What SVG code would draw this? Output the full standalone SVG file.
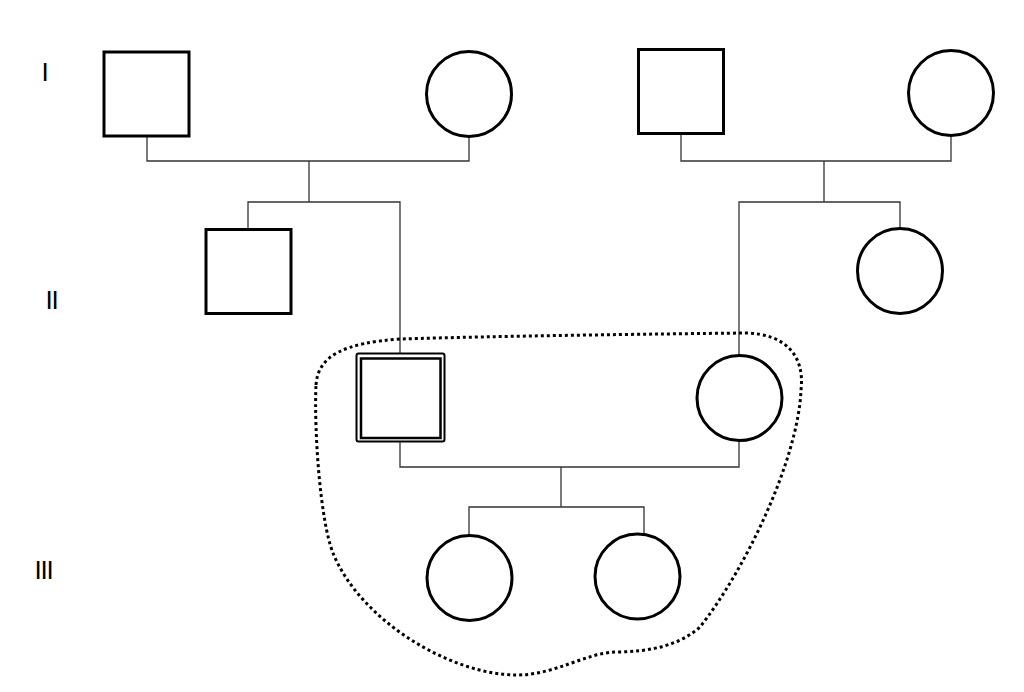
<svg xmlns="http://www.w3.org/2000/svg" width="1024" height="692" viewBox="0 0 1024 692">
<style>
.shape{fill:#fff;stroke:#000;stroke-width:3}
.conn{fill:none;stroke:#333;stroke-width:1.3}
.gen{font-family:"Liberation Sans",Arial,sans-serif;font-size:26px;fill:#000;letter-spacing:-1.2px}
.hh{fill:none;stroke:#000;stroke-width:3;stroke-dasharray:3 3}
</style>
<rect width="1024" height="692" fill="#fff"/>
<g id="labels">
<text class="gen" x="44.5" y="81" text-anchor="middle">I</text>
<text class="gen" x="51.5" y="309" text-anchor="middle">II</text>
<text class="gen" x="43.5" y="579" text-anchor="middle">III</text>
</g>
<g id="connectors">
<path class="conn" d="M147,136V161H469V137M309,161V202M248,229V202H400V355"/>
<path class="conn" d="M681,134V161H951V136M824,161V202M739,356V202H900V229"/>
<path class="conn" d="M400,442V467H739V441M561,467V507M469,535V507H644V534"/>
</g>
<g id="household">
<path class="hh" d="M316,385C318,355 345,343 400,339C500,336 650,334 746,333C785,334 805,355 801,390C798,460 745,570 700,627C680,645 650,652 616,652C585,653 555,675 517,675C450,675 360,620 333,553C320,520 314,430 316,385Z"/>
</g>
<g id="I-1"><rect class="shape" x="104" y="52" width="85" height="84"/></g>
<g id="I-2"><circle class="shape" cx="469" cy="94" r="42.5"/></g>
<g id="I-3"><rect class="shape" x="638.5" y="49.5" width="85" height="84"/></g>
<g id="I-4"><circle class="shape" cx="951" cy="93" r="42.5"/></g>
<g id="II-1"><rect class="shape" x="206" y="229.5" width="85" height="84"/></g>
<g id="II-2"><circle class="shape" cx="900" cy="271" r="42.5"/></g>
<g id="II-3">
<rect x="356.5" y="353.5" width="88" height="88" rx="2" fill="#fff" stroke="#000" stroke-width="2"/>
<rect x="361" y="358.5" width="79.5" height="79.5" fill="none" stroke="#000" stroke-width="2.5"/>
</g>
<g id="II-4"><circle class="shape" cx="739.5" cy="398" r="42.5"/></g>
<g id="III-1"><circle class="shape" cx="469.5" cy="578" r="42.5"/></g>
<g id="III-2"><circle class="shape" cx="637.5" cy="576.5" r="42.5"/></g>
</svg>
